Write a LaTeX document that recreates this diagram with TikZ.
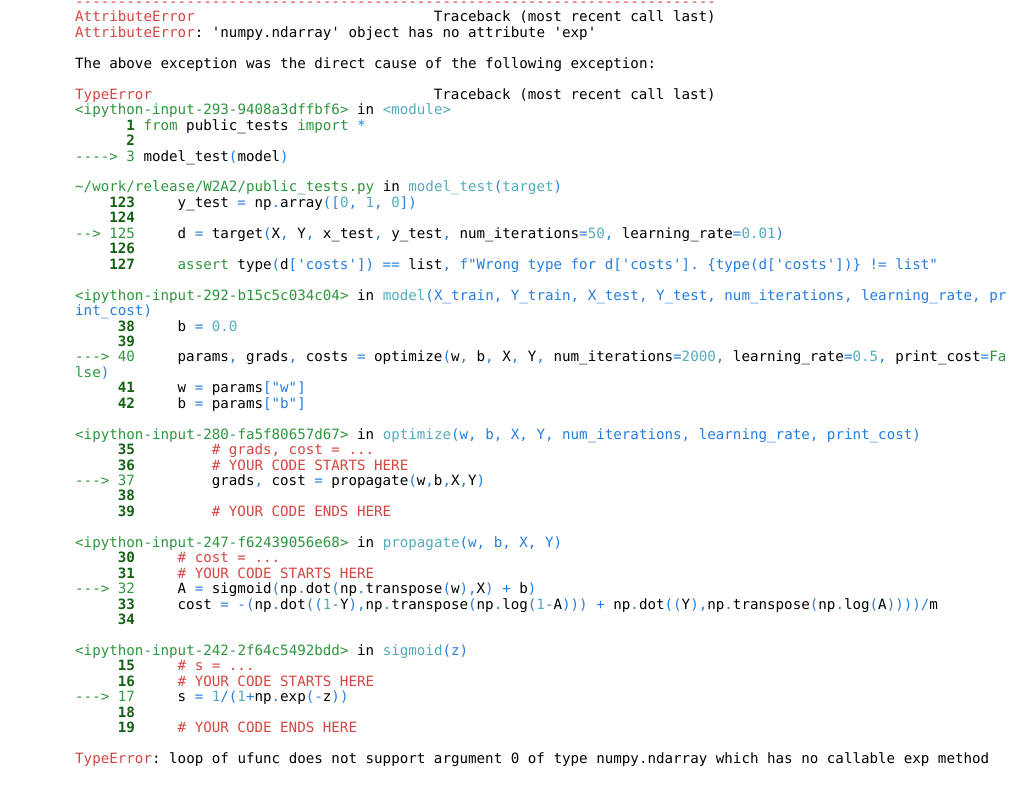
\documentclass[tikz,border=0pt]{standalone}
\usepackage{fontspec}
\setmonofont{DejaVu Sans Mono}
\definecolor{cred}{RGB}{214,70,66}
\definecolor{cgrn}{RGB}{46,150,62}
\definecolor{cdg}{RGB}{22,96,22}
\definecolor{cblu}{RGB}{38,126,222}
\definecolor{ccy}{RGB}{84,172,190}
\newcommand\R[1]{\textcolor{cred}{#1}}
\newcommand\G[1]{\textcolor{cgrn}{#1}}
\newcommand\D[1]{\textcolor{cdg}{\bfseries #1}}
\newcommand\B[1]{\textcolor{cblu}{#1}}
\newcommand\C[1]{\textcolor{ccy}{#1}}
\newcommand\T[3]{\node[txt] (t#1c#2) at ({(75+8.54*#2)*1pt},{-(22+15.45*#1)*1pt}) {#3};}
\tikzset{txt/.style={anchor=base west,inner sep=0pt,font=\ttfamily\fontsize{14.19}{17}\selectfont}}
\begin{document}
\begin{tikzpicture}
\path[fill=white,use as bounding box] (0,0) rectangle (1024pt,-791pt);
\node[txt] (dash) at (75pt,-7pt) {\R{---------------------------------------------------------------------------}};
\T{0}{0}{\R{AttributeError}}
\T{0}{42}{Traceback (most recent call last)}
\T{1}{0}{\R{AttributeError}: 'numpy.ndarray' object has no attribute 'exp'}
\T{3}{0}{The above exception was the direct cause of the following exception:}
\T{5}{0}{\R{TypeError}}
\T{5}{42}{Traceback (most recent call last)}
\T{6}{0}{\G{<ipython-input-293-9408a3dffbf6>} in \C{<module>}}
\T{7}{6}{\D{1} \G{from} public\_tests \G{import} \B{*}}
\T{8}{6}{\D{2}}
\T{9}{0}{\G{---->~3} model\_test\B{(}model\B{)}}
\T{11}{0}{\G{\textasciitilde/work/release/W2A2/public\_tests.py} in \C{model\_test}\B{(}\C{target}\B{)}}
\T{12}{4}{\D{123}}
\T{12}{12}{y\_test \B{=} np\B{.}array\B{([}\C{0}\B{,} \C{1}\B{,} \C{0}\B{])}}
\T{13}{4}{\D{124}}
\T{14}{0}{\G{-->~125}}
\T{14}{12}{d \B{=} target\B{(}X\B{,} Y\B{,} x\_test\B{,} y\_test\B{,} num\_iterations\B{=}\C{50}\B{,} learning\_rate\B{=}\C{0.01}\B{)}}
\T{15}{4}{\D{126}}
\T{16}{4}{\D{127}}
\T{16}{12}{\G{assert} type\B{(}d\B{['costs'])} \B{==} list\B{,} \B{f"Wrong type for d['costs']. \{type(d['costs'])\} != list"}}
\T{18}{0}{\G{<ipython-input-292-b15c5c034c04>} in \C{model}\B{(X\_train, Y\_train, X\_test, Y\_test, num\_iterations, learning\_rate, pr}}
\T{19}{0}{\B{int\_cost)}}
\T{20}{5}{\D{38}}
\T{20}{12}{b \B{=} \C{0.0}}
\T{21}{5}{\D{39}}
\T{22}{0}{\G{--->~40}}
\T{22}{12}{params\B{,} grads\B{,} costs \B{=} optimize\B{(}w\B{,} b\B{,} X\B{,} Y\B{,} num\_iterations\B{=}\C{2000}\B{,} learning\_rate\B{=}\C{0.5}\B{,} print\_cost\B{=}\G{Fa}}
\T{23}{0}{\G{lse}\B{)}}
\T{24}{5}{\D{41}}
\T{24}{12}{w \B{=} params\B{["w"]}}
\T{25}{5}{\D{42}}
\T{25}{12}{b \B{=} params\B{["b"]}}
\T{27}{0}{\G{<ipython-input-280-fa5f80657d67>} in \C{optimize}\B{(w, b, X, Y, num\_iterations, learning\_rate, print\_cost)}}
\T{28}{5}{\D{35}}
\T{28}{16}{\R{\# grads, cost = ...}}
\T{29}{5}{\D{36}}
\T{29}{16}{\R{\# YOUR CODE STARTS HERE}}
\T{30}{0}{\G{--->~37}}
\T{30}{16}{grads\B{,} cost \B{=} propagate\B{(}w\B{,}b\B{,}X\B{,}Y\B{)}}
\T{31}{5}{\D{38}}
\T{32}{5}{\D{39}}
\T{32}{16}{\R{\# YOUR CODE ENDS HERE}}
\T{34}{0}{\G{<ipython-input-247-f62439056e68>} in \C{propagate}\B{(w, b, X, Y)}}
\T{35}{5}{\D{30}}
\T{35}{12}{\R{\# cost = ...}}
\T{36}{5}{\D{31}}
\T{36}{12}{\R{\# YOUR CODE STARTS HERE}}
\T{37}{0}{\G{--->~32}}
\T{37}{12}{A \B{=} sigmoid\B{(}np\B{.}dot\B{(}np\B{.}transpose\B{(}w\B{),}X\B{)} \B{+} b\B{)}}
\T{38}{5}{\D{33}}
\T{38}{12}{cost \B{= -(}np\B{.}dot\B{((}\C{1}\B{-}Y\B{),}np\B{.}transpose\B{(}np\B{.}log\B{(}\C{1}\B{-}A\B{)))} \B{+} np\B{.}dot\B{((}Y\B{),}np\B{.}transpose\B{(}np\B{.}log\B{(}A\B{))))/}m}
\T{39}{5}{\D{34}}
\T{41}{0}{\G{<ipython-input-242-2f64c5492bdd>} in \C{sigmoid}\B{(z)}}
\T{42}{5}{\D{15}}
\T{42}{12}{\R{\# s = ...}}
\T{43}{5}{\D{16}}
\T{43}{12}{\R{\# YOUR CODE STARTS HERE}}
\T{44}{0}{\G{--->~17}}
\T{44}{12}{s \B{=} \C{1}\B{/(}\C{1}\B{+}np\B{.}exp\B{(-}z\B{))}}
\T{45}{5}{\D{18}}
\T{46}{5}{\D{19}}
\T{46}{12}{\R{\# YOUR CODE ENDS HERE}}
\T{48}{0}{\R{TypeError}: loop of ufunc does not support argument 0 of type numpy.ndarray which has no callable exp method}
\end{tikzpicture}
\end{document}
